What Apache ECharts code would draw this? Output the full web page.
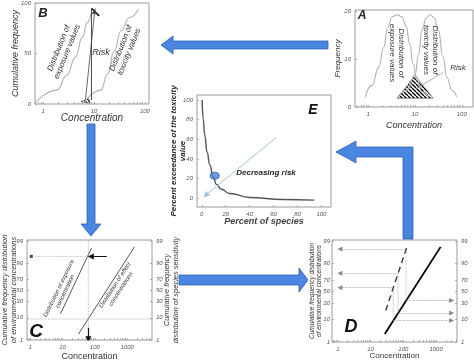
<!DOCTYPE html>
<html><head><meta charset="utf-8">
<script src="https://cdn.jsdelivr.net/npm/echarts@6/dist/echarts.min.js"></script>
<style>html,body{margin:0;padding:0;background:#fff}#c{width:474px;height:363px}</style>
</head><body><div id="c"></div>
<script>
// ---------- DATA ----------
// Panel B (cumulative curves)
const bExpConc = [0.74, 1.86, 2.94, 4.3, 5.9, 7.4, 9.3, 10.8];
const bExpCum  = [2.3, 13.7, 28.4, 46.4, 66, 80.7, 90.5, 94.8];
const bToxConc = [6.3, 13.6, 18.6, 25, 34, 50, 74];
const bToxCum  = [0.7, 13.7, 30, 52.9, 72.5, 85.6, 93.7];
const bRiskLineConc = [8.9, 8.9];
const bRiskLineCum  = [4, 94];
const bRiskArrowConc = [6.8, 10.3];
const bRiskArrowCum  = [4.6, 91.5];
const bTopMarkConc = [8.9, 12.6];
const bTopMarkCum  = [94.8, 87.3];
const bHatchConc = [5.5, 7.9, 8.3];
const bHatchCum  = [2.3, 5.6, 1];
const bXTicks = [1, 10, 100];
const bYTicks = [0, 50, 100];
// Panel A (frequency curves)
const aExpConc = [0.87, 1.2, 1.7, 2.14, 2.63, 3.24, 4.17, 5.25, 6.46, 7.76, 9.12, 11, 14.1, 19.5];
const aExpFreq = [2.1, 4.5, 8.3, 12.4, 16.6, 18.8, 19.2, 18.8, 16.9, 13.1, 9, 5.6, 3.2, 2];
const aToxConc = [4.17, 6.76, 10, 12, 14.1, 17.4, 21.4, 25.7, 31.6, 39.8, 47.9, 61.7, 77.6];
const aToxFreq = [1.9, 3.5, 6.6, 11, 15.9, 18.6, 19.2, 18.6, 15.9, 10.4, 6.2, 3.5, 2.1];
const aHatchConc = [4.2, 10, 24.5];
const aHatchFreq = [1.8, 6.6, 1.8];
const aRiskLeaderConc = [40, 10];
const aRiskLeaderFreq = [7.2, 3.7];
const aXTicks = [1, 10, 100];
const aYTicks = [0, 10, 20];
// Panel E
const eSpecies = [0.3, 1.1, 2.5, 4.4, 6.7, 9.4, 12.2, 16.4, 23.3, 40, 67.8, 94];
const eExceed  = [100, 81, 64, 47, 34, 22, 14, 9, 4.8, 0.7, -1.3, -2];
const eMarker  = [10.8, 22.8];
const eArrowX  = [62, 3.3];
const eArrowY  = [61.5, 3];
const eTicks   = [0, 20, 40, 60, 80, 100];
// Panel C
const cExpConc = [8.6, 79];
const cExpPct  = [13.5, 97.7];
const cEffConc = [31, 1700];
const cEffPct  = [2, 98];
const cRefConc = 63;
const cRefHighPct = 94.5;
const cRefLowPct = 9;
const cLeftArrowConc = [234, 75];
const cDownArrowPct = [4, 1.1];
// Panel D
const dDashConc = [29, 126];
const dDashPct  = [19, 97.8];
const dSolidConc = [27, 1380];
const dSolidPct  = [2.5, 98];
const dConc     = [49, 69, 121];
const dLeftPct  = [57, 80, 97.5];
const dRightPct = [9, 16, 34];
const dLeftEnd = 1.15, dRightEnd = 3000;
const logTicks = [1, 10, 100, 1000];
const probTicks = [1, 10, 30, 50, 70, 90, 99];

// ---------- HELPERS ----------
function probit(p){
  const a=[-3.969683028665376e+01,2.209460984245205e+02,-2.759285104469687e+02,1.383577518672690e+02,-3.066479806614716e+01,2.506628277459239e+00];
  const b=[-5.447609879822406e+01,1.615858368580409e+02,-1.556989798598866e+02,6.680131188771972e+01,-1.328068155288572e+01];
  const c=[-7.784894002430293e-03,-3.223964580411365e-01,-2.400758277161838e+00,-2.549732539343734e+00,4.374664141464968e+00,2.938163982698783e+00];
  const d=[7.784695709041462e-03,3.224671290700398e-01,2.445134137142996e+00,3.754408661907416e+00];
  const pl=0.02425, ph=1-pl; let q,r;
  if(p<pl){q=Math.sqrt(-2*Math.log(p));return (((((c[0]*q+c[1])*q+c[2])*q+c[3])*q+c[4])*q+c[5])/((((d[0]*q+d[1])*q+d[2])*q+d[3])*q+1);}
  if(p<=ph){q=p-0.5;r=q*q;return (((((a[0]*r+a[1])*r+a[2])*r+a[3])*r+a[4])*r+a[5])*q/(((((b[0]*r+b[1])*r+b[2])*r+b[3])*r+b[4])*r+1);}
  q=Math.sqrt(-2*Math.log(1-p));return -(((((c[0]*q+c[1])*q+c[2])*q+c[3])*q+c[4])*q+c[5])/((((d[0]*q+d[1])*q+d[2])*q+d[3])*q+1);
}
const Z = pct => probit(pct/100);
const L = v => Math.log10(v);
const FONT = '"Liberation Sans", Arial, sans-serif';
const zip = (xs, ys, fx, fy) => xs.map((x,i)=>[fx(x), fy(ys[i])]);
const id = v => v;

function minorLog(min,max){ const out=[]; for(let dd=-1; dd<=4; dd++){ for(let m=1;m<=9;m++){ const v=dd+Math.log10(m); if(v>=min-1e-9 && v<=max+1e-9) out.push(v);} } return out; }
const lblStyle = {fontSize:6, color:'#555', fontStyle:'italic', fontFamily:FONT};
function nameStyle(size, extra){ return Object.assign({fontSize:size, color:'#333', fontStyle:'italic', fontFamily:FONT, lineHeight:size+1}, extra||{}); }
const noLine = {show:false, onZero:false};

function xLog(gi,min,max,ticks,name,gap,ns){ return {type:'value', gridIndex:gi, min, max,
  name, nameLocation:'middle', nameGap:gap, nameTextStyle:ns, nameMoveOverlap:false,
  axisLine:noLine, splitLine:{show:false},
  axisTick:{show:true, inside:true, length:2, customValues:minorLog(min,max), lineStyle:{color:'#888',width:0.6}},
  axisLabel:Object.assign({customValues:ticks.map(L), margin:4, formatter:v=>String(Math.round(Math.pow(10,v)))}, lblStyle)}; }
function yLin(gi,min,max,ticks,name,gap,ns,pos){ return {type:'value', gridIndex:gi, min, max, position:pos||'left',
  name, nameLocation:'middle', nameGap:gap, nameTextStyle:ns, nameMoveOverlap:false,
  axisLine:noLine, splitLine:{show:false},
  axisTick:{show:true, inside:true, length:2, customValues:ticks, lineStyle:{color:'#888',width:0.6}},
  axisLabel:Object.assign({customValues:ticks, margin:4}, lblStyle)}; }
function yProb(gi,pos,name,gap,ns,margin){ return {type:'value', gridIndex:gi, position:pos, min:Z(1), max:2.37,
  name, nameLocation:'middle', nameGap:gap, nameTextStyle:ns, nameMoveOverlap:false,
  axisLine:noLine, splitLine:{show:false},
  axisTick:{show:true, inside:true, length:2, customValues:probTicks.map(Z), lineStyle:{color:'#888',width:0.6}},
  axisLabel:Object.assign({customValues:probTicks.map(Z), margin:margin||4, formatter:v=>{for(const t of probTicks){if(Math.abs(Z(t)-v)<1e-6) return String(t);} return '';}}, lblStyle)}; }

// hatch pattern
function hatch(){ const s=4, cv=document.createElement('canvas'); cv.width=s; cv.height=s; const g=cv.getContext('2d');
  g.strokeStyle='#000'; g.lineWidth=1.3; for(const k of [-s,0,s]){ g.beginPath(); g.moveTo(k,0); g.lineTo(k+s,s); g.stroke(); }
  return {image:cv, repeat:'repeat'}; }
const HATCH = hatch();

function polySeries(xi, yi, xs, ys){ return {type:'custom', xAxisIndex:xi, yAxisIndex:yi, silent:true, z:3,
  data:[[L(xs[1]), ys[1]]],
  renderItem:(params, api)=>({type:'polygon', shape:{points:xs.map((x,i)=>api.coord([L(x), ys[i]]))}, style:{fill:HATCH, stroke:'#222', lineWidth:0.4}})}; }
function lineS(xi, yi, data, color, width, type, smooth){ return {type:'line', xAxisIndex:xi, yAxisIndex:yi, data, showSymbol:false, symbol:'none', smooth:!!smooth, smoothMonotone:'x', silent:true,
  lineStyle:{color, width, type:type||'solid'}}; }
function arrowS(xi, yi, segs, color, width, type, size){ return {type:'lines', coordinateSystem:'cartesian2d', xAxisIndex:xi, yAxisIndex:yi, silent:true, z:4,
  symbol:['none','triangle'], symbolSize:size||5,
  lineStyle:{color, width, type:type||'solid', opacity:1}, data:segs.map(s=>({coords:s}))}; }

// ---------- OPTION ----------
const gridStyle = {show:true, borderColor:'#9a9a9a', borderWidth:1, backgroundColor:'transparent'};
const grids = [
  Object.assign({left:35, top:2, width:114, height:102}, gridStyle),   // B
  Object.assign({left:355, top:10, width:118, height:97}, gridStyle),  // A
  Object.assign({left:197, top:95, width:134, height:112}, gridStyle), // E
  Object.assign({left:26, top:240, width:126, height:102}, gridStyle), // C
  Object.assign({left:332, top:240, width:125, height:102}, gridStyle) // D
];

const xAxis = [
  xLog(0, -0.16, 2.08, bXTicks, 'Concentration', 9, nameStyle(10)),
  xLog(1, -0.28, 2.24, aXTicks, 'Concentration', 13, nameStyle(9)),
  {type:'value', gridIndex:2, min:-4, max:108, name:'Percent of species', nameLocation:'middle', nameGap:10, nameMoveOverlap:false, nameTextStyle:nameStyle(9,{fontWeight:'bold', color:'#444'}),
    axisLine:noLine, splitLine:{show:false},
    axisTick:{show:true, inside:true, length:2, customValues:eTicks, lineStyle:{color:'#888',width:0.6}},
    axisLabel:Object.assign({customValues:eTicks, margin:4}, lblStyle)},
  xLog(3, -0.1, 3.77, logTicks, 'Concentration', 12, nameStyle(9,{fontStyle:'normal'})),
  xLog(4, -0.18, 3.64, logTicks, 'Concentration', 9, nameStyle(8,{fontStyle:'normal'}))
];
const yAxis = [
  yLin(0, 0, 100, bYTicks, 'Cumulative frequency', 15, nameStyle(9)),
  yLin(1, 0, 20.2, aYTicks, 'Frequency', 13, nameStyle(8)),
  yLin(2, -9, 105, eTicks, 'Percent exceedance of the toxicity\nvalue', 10, nameStyle(8,{fontWeight:'bold', color:'#222'})),
  yProb(3, 'left', 'Cumulative frequency distribution\nof environmental concentrations', 9, nameStyle(7.5)),
  yProb(4, 'left', 'Cumulative frequency distribution\nof environmental concentrations', 9, nameStyle(6.5,{lineHeight:7.5}), 2),
  yProb(3, 'right', 'Cumulative frequency\ndistribution of species sensitivity', 11, nameStyle(7.5)),
  yProb(4, 'right', '', 0, nameStyle(7))
];

const series = [
  // B
  lineS(0,0, zip(bExpConc,bExpCum,L,id), '#b0b0b0', 1.1, 'solid', true),
  lineS(0,0, zip(bToxConc,bToxCum,L,id), '#b0b0b0', 1.1, 'solid', true),
  lineS(0,0, zip(bRiskLineConc,bRiskLineCum,L,id), '#333', 0.9),
  lineS(0,0, zip(bTopMarkConc,bTopMarkCum,L,id), '#111', 1.6),
  arrowS(0,0, [zip(bRiskArrowConc,bRiskArrowCum,L,id)], '#444', 0.8, 'solid', 5),
  polySeries(0,0,bHatchConc,bHatchCum),
  // A
  lineS(1,1, zip(aExpConc,aExpFreq,L,id), '#b0b0b0', 1.1, 'solid', true),
  lineS(1,1, zip(aToxConc,aToxFreq,L,id), '#b0b0b0', 1.1, 'solid', true),
  polySeries(1,1,aHatchConc,aHatchFreq),
  lineS(1,1, zip(aRiskLeaderConc,aRiskLeaderFreq,L,id), '#999', 0.8),
  // E
  lineS(2,2, zip(eSpecies,eExceed,id,id), '#555', 1.4, 'solid', true),
  arrowS(2,2, [zip(eArrowX,eArrowY,id,id)], '#9fc3e3', 1, 'solid', 6),
  {type:'scatter', xAxisIndex:2, yAxisIndex:2, silent:true, z:5, data:[eMarker], symbol:'circle', symbolSize:[9,7],
    itemStyle:{color:'#4a86d8', borderColor:'#2b5ea8', borderWidth:1}},
  // C
  lineS(3,3, zip(cExpConc,cExpPct,L,Z), '#444', 0.9),
  lineS(3,3, zip(cEffConc,cEffPct,L,Z), '#444', 0.9),
  lineS(3,3, [[L(1.05), Z(cRefHighPct)], [L(cRefConc), Z(cRefHighPct)]], '#999', 0.7, 'dotted'),
  lineS(3,3, [[L(cRefConc), Z(1)], [L(cRefConc), 2.37]], '#999', 0.7, 'dotted'),
  lineS(3,3, [[-0.1, Z(cRefLowPct)], [3.77, Z(cRefLowPct)]], '#999', 0.7, 'dotted'),
  arrowS(3,3, [[[L(cLeftArrowConc[0]), Z(cRefHighPct)], [L(cLeftArrowConc[1]), Z(cRefHighPct)]]], '#111', 1.2, 'solid', 6),
  arrowS(3,3, [[[L(cRefConc), Z(cDownArrowPct[0])], [L(cRefConc), Z(cDownArrowPct[1])]]], '#111', 1.2, 'solid', 6),
  {type:'scatter', xAxisIndex:3, yAxisIndex:3, silent:true, data:[[L(1.08), Z(cRefHighPct)]], symbol:'rect', symbolSize:3, itemStyle:{color:'#111'}},
  // D
  lineS(4,4, zip(dDashConc,dDashPct,L,Z), '#333', 1.4, [6,4]),
  lineS(4,4, zip(dSolidConc,dSolidPct,L,Z), '#000', 1.8),
  ...dConc.map((c,i)=>lineS(4,4, [[L(c), Z(dLeftPct[i])], [L(c), Z(dRightPct[i])]], '#999', 0.7, 'dotted')),
  arrowS(4,4, dConc.map((c,i)=>[[L(c), Z(dLeftPct[i])], [L(dLeftEnd), Z(dLeftPct[i])]]), '#888', 0.7, 'dotted', 5),
  arrowS(4,4, dConc.map((c,i)=>[[L(c), Z(dRightPct[i])], [L(dRightEnd), Z(dRightPct[i])]]), '#888', 0.7, 'dotted', 5)
];

const blue = {fill:'#4a86e0', stroke:'#2f62b5', lineWidth:0.8};
function txt(x,y,text,font,rot,extra){ return {type:'text', x, y, rotation:(rot||0)*Math.PI/180, silent:true, z:10,
  style:Object.assign({text, font, fill:'#333', align:'center', verticalAlign:'middle'}, extra||{})}; }
const graphic = [
  {type:'polygon', silent:true, shape:{points:[[328,41],[173,41],[173,36],[161,45],[173,54],[173,49],[328,49]]}, style:blue},
  {type:'polygon', silent:true, shape:{points:[[87,124],[95,124],[95,224],[101,224],[91,236],[81,224],[87,224]]}, style:blue},
  {type:'polygon', silent:true, shape:{points:[[179,275],[299,275],[299,268],[308,280],[299,292],[299,285],[179,285]]}, style:blue},
  {type:'polygon', silent:true, shape:{points:[[403,239],[413,239],[413,147],[356,147],[356,141],[336,152],[356,163],[356,157],[403,157]]}, style:blue},
  txt(43,13,'B','italic bold 13px '+FONT,0,{fill:'#222'}),
  txt(362,16,'A','italic bold 12px '+FONT,0,{fill:'#222'}),
  txt(313,110,'E','italic bold 14px '+FONT,0,{fill:'#111'}),
  txt(36,332,'C','italic bold 19px '+FONT,0,{fill:'#111'}),
  txt(351,327,'D','italic bold 18px '+FONT,0,{fill:'#111'}),
  txt(63,50,'Distribution of\nexposure values','italic 8px '+FONT,68,{lineHeight:9}),
  txt(125,50,'Distribution of\ntoxicity values','italic 8px '+FONT,68,{lineHeight:9}),
  txt(101,52,'Risk','italic 9px '+FONT,0),
  txt(397,53,'Distribution of\nexposure values','italic 8px '+FONT,-90,{lineHeight:9}),
  txt(431,50,'Distribution of\ntoxicity values','italic 8px '+FONT,-90,{lineHeight:9}),
  txt(458,68,'Risk','italic 8px '+FONT,0),
  txt(266,173,'Decreasing risk','italic bold 8px '+FONT,0,{fill:'#222'}),
  txt(62,290,'Distribution of exposure\nconcentration','italic 6px '+FONT,64,{lineHeight:7}),
  txt(118,287,'Distribution of effect\nconcentrations','italic 6px '+FONT,57,{lineHeight:7})
];

const chart = echarts.init(document.getElementById('c'), null, {renderer:'canvas'});
chart.setOption({animation:false, backgroundColor:'#fff', grid:grids, xAxis, yAxis, series, graphic});
</script></body></html>
